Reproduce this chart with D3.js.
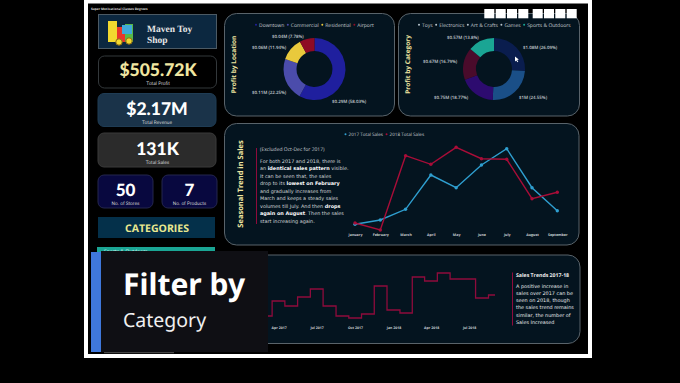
<!DOCTYPE html>
<html>
<head>
<meta charset="utf-8">
<script src="https://cdnjs.cloudflare.com/ajax/libs/d3/7.8.5/d3.min.js"></script>
<style>
html, body { margin: 0; padding: 0; background: #000; }
svg { display: block; }
text { font-family: "Open Sans", sans-serif; text-rendering: geometricPrecision; }
</style>
</head>
<body>
<div id="chart"></div>
<script>
// Donut data
const locations = ["Downtown", "Commercial", "Residential", "Airport"];
const locationShare = [58.03, 22.25, 11.94, 7.78];
const locationLabels = ["$0.29M (58.03%)", "$0.11M (22.25%)", "$0.06M (11.94%)", "$0.04M (7.78%)"];
const locationColors = ["#1f1f9e", "#4b4cab", "#e9c93c", "#8e0b24"];

const categories = ["Toys", "Electronics", "Art & Crafts", "Games", "Sports & Outdoors"];
const categoryShare = [26.09, 24.55, 18.77, 16.79, 13.8];
const categoryLabels = ["$1.08M (26.09%)", "$1M (24.55%)", "$0.75M (18.77%)", "$0.67M (16.79%)", "$0.57M (13.8%)"];
const categoryColors = ["#0a1d4e", "#1a4f87", "#2d0b6f", "#4a0b2b", "#1aa594"];
const categoryDots = ["#b8c4cc", "#b8c4cc", "#b8c4cc", "#b8c4cc", "#1aa594"];

// Seasonal trend
const months = ["January", "February", "March", "April", "May", "June", "July", "August", "September"];
const sales2017 = [1570, 2000, 3070, 6500, 5230, 7500, 9130, 5230, 2930];
const sales2018 = [1700, 1000, 8430, 7570, 9270, 8130, 8070, 4130, 4770];

// Monthly step line, March 2017 to September 2018
const trendMonths = ["2017-03", "2017-04", "2017-05", "2017-06", "2017-07", "2017-08", "2017-09", "2017-10", "2017-11", "2017-12",
    "2018-01", "2018-02", "2018-03", "2018-04", "2018-05", "2018-06", "2018-07", "2018-08", "2018-09"];
const trendValues = [2100, 4350, 3600, 4950, 6150, 3600, 2100, 1800, 2400, 6600,
    3000, 2550, 7950, 7350, 8550, 7650, 7650, 4800, 5250];
const trendTicks = ["2017-04", "2017-07", "2017-10", "2018-01", "2018-04", "2018-07"];

const seasonalNote = [
    [["For both 2017 and 2018, there is", false]],
    [["an ", false], ["identical sales pattern", true], [" visible.", false]],
    [["It can be seen that, the sales", false]],
    [["drop to its ", false], ["lowest on February", true]],
    [["and gradually increases from", false]],
    [["March and keeps a steady sales", false]],
    [["volumes till July. And then ", false], ["drops", true]],
    [["again on August", true], [". Then the sales", false]],
    [["start increasing again.", false]]
];
const trendNote = ["A positive increase in", "sales over 2017 can be", "seen on 2018, though", "the sales trend remains", "similar, the number of", "Sales Increased"];

const width = 680, height = 383;
const svg = d3.select("#chart").append("svg").attr("width", width).attr("height", height);

const PANEL_FILL = "#04141f", PANEL_STROKE = "#59636a", CREAM = "#f0e6a0";

// White slide frame around the dashboard
svg.append("rect").attr("x", 84).attr("y", 0).attr("width", 508).attr("height", 358).attr("fill", "#fff");
svg.append("rect").attr("x", 88).attr("y", 3.5).attr("width", 500).attr("height", 350.5).attr("fill", "#000");
svg.append("text").attr("x", 91).attr("y", 10).attr("font-size", 3.2).attr("font-weight", 700).attr("fill", "#ddd")
    .text("Super Motivational Classes Degrees");

function card(x, y, w, h, r, fill, stroke) {
    svg.append("rect").attr("x", x).attr("y", y).attr("width", w).attr("height", h).attr("rx", r)
        .attr("fill", fill).attr("stroke", stroke).attr("stroke-width", 1);
}
function label(x, y, s, size, fill, opts = {}) {
    return svg.append("text").attr("x", x).attr("y", y).attr("font-size", size).attr("fill", fill)
        .attr("text-anchor", opts.anchor || "middle").attr("font-weight", opts.weight || 400)
        .style("font-family", opts.family || null).text(s);
}
function kpi(cx, y, value, size, fill, name) {
    label(cx, y, value, size, fill, { weight: 900, family: "Lato, sans-serif" });
    label(cx, y + 8.5, name, 4.8, "#d0d0d0", { family: "Roboto, sans-serif" });
}

// Left column
card(98.5, 14.5, 118, 34, 0, "#0c2840", "#4c5a64");
const logo = svg.append("g");
[[108, 21, 9, 21, "#f2d92f"], [117, 27, 8, 15, "#e8352a"], [125, 24, 8, 18, "#57b947"]].forEach(d => {
    logo.append("rect").attr("x", d[0]).attr("y", d[1]).attr("width", d[2]).attr("height", d[3]).attr("fill", d[4]);
});
logo.append("rect").attr("x", 122).attr("y", 25).attr("width", 10).attr("height", 9).attr("fill", "#3fa9d8");
[[119, 42], [129, 41]].forEach(d => {
    logo.append("circle").attr("cx", d[0]).attr("cy", d[1]).attr("r", 3.2).attr("fill", "#f2d92f").attr("stroke", "#8a6a12");
});
label(147, 32, "Maven Toy", 9.5, "#e6e6e6", { anchor: "start", weight: 700, family: "'Liberation Serif', serif" });
label(147, 43, "Shop", 9.5, "#e6e6e6", { anchor: "start", weight: 700, family: "'Liberation Serif', serif" });

card(98.5, 56, 118, 32, 6, "#000", "#33383b");
kpi(158, 76, "$505.72K", 17.5, CREAM, "Total Profit");

card(98, 93.5, 118, 33, 6, "#1a3349", "#1f3c54");
kpi(157, 115, "$2.17M", 17.5, "#fff", "Total Revenue");

card(98, 133, 118, 34, 6, "#2b2b2b", "#3a3a3a");
kpi(157.5, 155, "131K", 17.5, "#fff", "Total Sales");

card(98, 175, 55, 33, 6, "#08083f", "#24264f");
kpi(125.5, 196, "50", 17, "#fff", "No. of Stores");
card(162, 175, 55, 33, 6, "#08083f", "#24264f");
kpi(189.5, 196, "7", 17, "#fff", "No. of Products");

svg.append("rect").attr("x", 98).attr("y", 217).attr("width", 117).attr("height", 21).attr("fill", "#04304a");
label(157, 231.5, "CATEGORIES", 10.5, "#e9e88f", { weight: 700 });
svg.append("rect").attr("x", 97).attr("y", 247).attr("width", 118).attr("height", 6).attr("fill", "#1aa594");
label(104, 252.5, "Sports & Outdoors", 5, "#d8f0ec", { anchor: "start" });

// Panels
card(224.5, 13.5, 170, 102.5, 12, PANEL_FILL, PANEL_STROKE);
card(398.5, 13.5, 181, 102.5, 12, PANEL_FILL, PANEL_STROKE);
card(224.5, 123.5, 354.5, 121.5, 12, PANEL_FILL, PANEL_STROKE);
card(224.5, 255, 355.5, 88.5, 12, PANEL_FILL, PANEL_STROKE);

function vertical(x, y, s, size) {
    svg.append("text").attr("transform", `translate(${x},${y}) rotate(-90)`).attr("text-anchor", "middle")
        .attr("font-size", size).attr("font-weight", 700).attr("fill", CREAM).text(s);
}
vertical(235.5, 64.5, "Profit by Location", 6.5);
vertical(410, 64.5, "Profit by Category", 6.5);
vertical(243, 184, "Seasonal Trend in Sales", 7.5);

// Donuts
function legend(names, colors, x, y, size) {
    let cx = x;
    names.forEach((n, i) => {
        svg.append("circle").attr("cx", cx).attr("cy", y - 1.7).attr("r", 1).attr("fill", colors[i]);
        const t = svg.append("text").attr("x", cx + 3).attr("y", y).attr("font-size", size).attr("fill", "#c4ccd0").text(n);
        cx += 3 + t.node().getComputedTextLength() + 3.5;
    });
}
function donut(cx, cy, values, colors, labels, labelPos) {
    const pie = d3.pie().sort(null)(values);
    const arc = d3.arc().innerRadius(18).outerRadius(31);
    const g = svg.append("g").attr("transform", `translate(${cx},${cy})`);
    g.selectAll("path").data(pie).join("path").attr("d", arc).attr("fill", (d, i) => colors[i]);
    labels.forEach((s, i) => {
        label(labelPos[i][0], labelPos[i][1], s, 4.4, "#c4ccd0", { anchor: labelPos[i][2], weight: 600 });
    });
}
legend(locations, locationColors, 256, 26.5, 5);
donut(314.5, 69, locationShare, locationColors, locationLabels, [
    [332, 103, "start"], [252, 94, "start"], [252, 49, "start"], [272, 37.5, "start"]
]);
legend(categories, categoryDots, 419, 26.5, 5);
donut(494, 69, categoryShare, categoryColors, categoryLabels, [
    [523, 48.5, "start"], [519, 98.5, "start"], [434, 98.5, "start"], [423, 62.5, "start"], [447, 39, "start"]
]);

// Seasonal note
svg.append("line").attr("x1", 256.5).attr("x2", 256.5).attr("y1", 148).attr("y2", 224)
    .attr("stroke", "#8e0b3c").attr("stroke-width", 1);
label(260, 151, "(Excluded Oct-Dec for 2017)", 5, "#c8cdd0", { anchor: "start" });
seasonalNote.forEach((line, i) => {
    const t = svg.append("text").attr("x", 260).attr("y", 162.5 + i * 7.5).attr("font-size", 4.9).attr("fill", "#d4d8da")
        .style("font-family", "'DejaVu Sans', sans-serif");
    line.forEach(part => {
        t.append("tspan").attr("font-weight", part[1] ? 700 : 400).attr("fill", part[1] ? "#fff" : "#d4d8da").text(part[0]);
    });
});

// Seasonal line chart
const x = d3.scalePoint().domain(months).range([355, 557.3]);
const y = d3.scaleLinear().domain([0, 10000]).range([240, 140]);
const line = d3.line().x((d, i) => x(months[i])).y(d => y(d));
[[sales2017, "#2f9fd0"], [sales2018, "#a80d38"]].forEach(s => {
    svg.append("path").attr("d", line(s[0])).attr("fill", "none").attr("stroke", s[1]).attr("stroke-width", 1.4);
    svg.append("g").selectAll("circle").data(s[0]).join("circle")
        .attr("cx", (d, i) => x(months[i])).attr("cy", d => y(d)).attr("r", 1.7).attr("fill", s[1]);
});
const xAxis = svg.append("g").attr("transform", "translate(0,231)")
    .call(d3.axisBottom(x).tickSize(0).tickPadding(2));
xAxis.select(".domain").remove();
xAxis.selectAll("text").attr("font-size", 3.6).attr("font-weight", 700).attr("fill", "#c8cdd0");
legend(["2017 Total Sales", "2018 Total Sales"], ["#2f9fd0", "#a80d38"], 345.5, 136, 4.6);

// Step trend
const parseMonth = d3.timeParse("%Y-%m");
const tx = d3.scaleTime().domain([parseMonth("2017-01"), parseMonth("2018-09")]).range([241, 495]);
const ty = d3.scaleLinear().domain([0, 9000]).range([330, 270]);
const step = d3.line().curve(d3.curveStep).x((d, i) => tx(parseMonth(trendMonths[i]))).y(d => ty(d));
svg.append("path").attr("d", step(trendValues)).attr("fill", "none").attr("stroke", "#8e0b3c").attr("stroke-width", 1.3);
const tAxis = svg.append("g").attr("transform", "translate(0,325)")
    .call(d3.axisBottom(tx).tickValues(trendTicks.map(parseMonth)).tickFormat(d3.timeFormat("%b %Y")).tickSize(0).tickPadding(2));
tAxis.select(".domain").remove();
tAxis.selectAll("text").attr("font-size", 3.5).attr("font-weight", 700).attr("fill", "#c8cdd0");

// Trend note
svg.append("line").attr("x1", 512.5).attr("x2", 512.5).attr("y1", 272.5).attr("y2", 325.5)
    .attr("stroke", "#8e0b3c").attr("stroke-width", 1);
label(516, 276.5, "Sales Trends 2017-18", 5.2, "#f0f0f0", { anchor: "start", weight: 700 });
trendNote.forEach((s, i) => {
    label(516, 287.5 + i * 7.3, s, 4.9, "#e6e8ea", { anchor: "start", family: "'DejaVu Sans', sans-serif" });
});

// Privacy squares over the top right corner
[484.3, 495.7, 507, 518.3, 532.7, 544, 555.3, 566.7].forEach(sx => {
    svg.append("rect").attr("x", sx).attr("y", 9).attr("width", 10).attr("height", 9.3).attr("fill", "#fff");
});
// Mouse pointer on the category donut
svg.append("path").attr("d", "M515,56.5 l0,5 l1.3,-1.1 l1.2,1.8 l0.8,-0.5 l-1.1,-1.8 l1.6,-0.3 z").attr("fill", "#fff");

// Caption overlay
svg.append("rect").attr("x", 91).attr("y", 252).attr("width", 10).attr("height", 100).attr("fill", "#3f78dc");
svg.append("rect").attr("x", 101).attr("y", 251).attr("width", 167).attr("height", 101).attr("fill", "#0f0f14");
svg.append("line").attr("x1", 104).attr("x2", 174).attr("y1", 352.7).attr("y2", 352.7).attr("stroke", "#555");
label(123, 295, "Filter by", 30, "#fff", { anchor: "start", weight: 700, family: "'Noto Sans', sans-serif" });
label(123, 327, "Category", 19.5, "#f0f0f0", { anchor: "start", family: "'Noto Sans', sans-serif" });
</script>
</body>
</html>
